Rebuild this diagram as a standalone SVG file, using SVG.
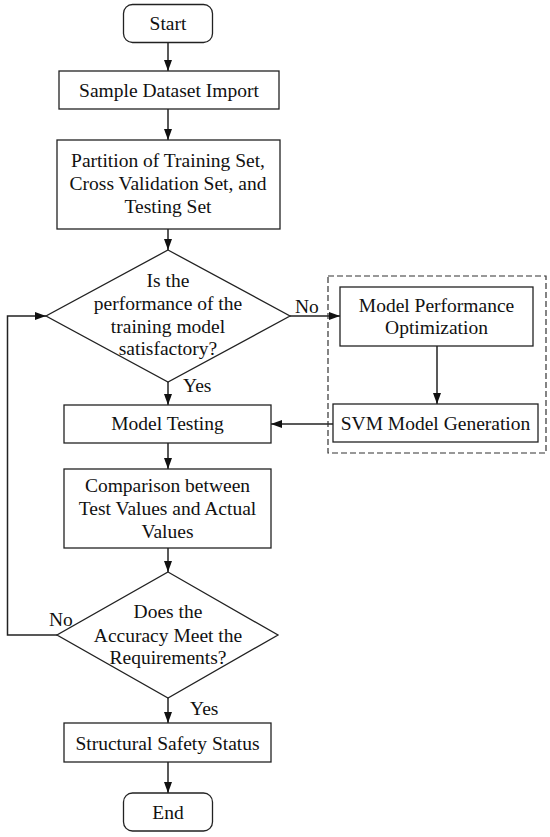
<svg xmlns="http://www.w3.org/2000/svg" width="550" height="837" viewBox="0 0 550 837">
<style>
.box{fill:#fff;stroke:#222;stroke-width:1.3}
.ln{fill:none;stroke:#222;stroke-width:1.5}
.dash{fill:none;stroke:#333;stroke-width:1.2;stroke-dasharray:6 3}
text{font-family:"Liberation Serif","Times New Roman",serif;font-size:19.5px;fill:#111;text-anchor:middle}
.lbl{text-anchor:start}
</style>
<defs>
<marker id="arr" viewBox="0 0 11 8" refX="11" refY="4" markerWidth="11" markerHeight="8" markerUnits="userSpaceOnUse" orient="auto">
<path d="M0,0 L11,4 L0,8 Z" fill="#111"/>
</marker>
</defs>
<rect width="550" height="837" fill="#fff"/>
<g id="connectors">
<line class="ln" x1="168" y1="42" x2="168" y2="71" marker-end="url(#arr)"/>
<line class="ln" x1="168" y1="109" x2="168" y2="140" marker-end="url(#arr)"/>
<line class="ln" x1="168" y1="229" x2="168" y2="250" marker-end="url(#arr)"/>
<line class="ln" x1="290" y1="316" x2="340" y2="316" marker-end="url(#arr)"/>
<line class="ln" x1="437" y1="346" x2="437" y2="404" marker-end="url(#arr)"/>
<line class="ln" x1="333" y1="424" x2="271" y2="424" marker-end="url(#arr)"/>
<line class="ln" x1="168" y1="382" x2="168" y2="405" marker-end="url(#arr)"/>
<line class="ln" x1="168" y1="443" x2="168" y2="469" marker-end="url(#arr)"/>
<line class="ln" x1="168" y1="548" x2="168" y2="572" marker-end="url(#arr)"/>
<polyline class="ln" points="57,635 7.5,635 7.5,316 46,316" marker-end="url(#arr)"/>
<line class="ln" x1="168" y1="698" x2="168" y2="723" marker-end="url(#arr)"/>
<line class="ln" x1="168" y1="762" x2="168" y2="793" marker-end="url(#arr)"/>
<text class="lbl" x="295" y="313">No</text>
<text class="lbl" x="183" y="392">Yes</text>
<text class="lbl" x="49" y="626">No</text>
<text class="lbl" x="190" y="715">Yes</text>
</g>
<g id="start">
<rect class="box" x="123.5" y="4.5" width="89" height="38" rx="9"/>
<text x="168" y="30">Start</text>
</g>
<g id="import">
<rect class="box" x="59" y="71" width="220" height="38"/>
<text x="169" y="97">Sample Dataset Import</text>
</g>
<g id="partition">
<rect class="box" x="57" y="140" width="223" height="89"/>
<text x="168" y="167">Partition of Training Set,</text>
<text x="168" y="190">Cross Validation Set, and</text>
<text x="168" y="213">Testing Set</text>
</g>
<g id="decision1">
<polygon class="box" points="168,250 290,316 168,382 46,316"/>
<text x="168" y="287">Is the</text>
<text x="168" y="310">performance of the</text>
<text x="168" y="333">training model</text>
<text x="168" y="355">satisfactory?</text>
</g>
<g id="optimization-group">
<rect class="dash" x="328" y="276" width="218" height="177"/>
</g>
<g id="optimization">
<rect class="box" x="340" y="287" width="193" height="59"/>
<text x="436.5" y="312">Model Performance</text>
<text x="436.5" y="334">Optimization</text>
</g>
<g id="svm">
<rect class="box" x="333" y="404" width="205" height="38"/>
<text x="435.5" y="430">SVM Model Generation</text>
</g>
<g id="testing">
<rect class="box" x="64" y="405" width="207" height="38"/>
<text x="167.5" y="430">Model Testing</text>
</g>
<g id="comparison">
<rect class="box" x="64" y="469" width="207" height="79"/>
<text x="167.5" y="492">Comparison between</text>
<text x="167.5" y="515">Test Values and Actual</text>
<text x="167.5" y="538">Values</text>
</g>
<g id="decision2">
<polygon class="box" points="168,572 278,635 168,698 57,635"/>
<text x="168" y="618">Does the</text>
<text x="168" y="642">Accuracy Meet the</text>
<text x="168" y="664">Requirements?</text>
</g>
<g id="status">
<rect class="box" x="64" y="723" width="207" height="39"/>
<text x="167.5" y="750">Structural Safety Status</text>
</g>
<g id="end">
<rect class="box" x="123.5" y="793" width="89" height="38" rx="9"/>
<text x="168" y="819">End</text>
</g>
</svg>
